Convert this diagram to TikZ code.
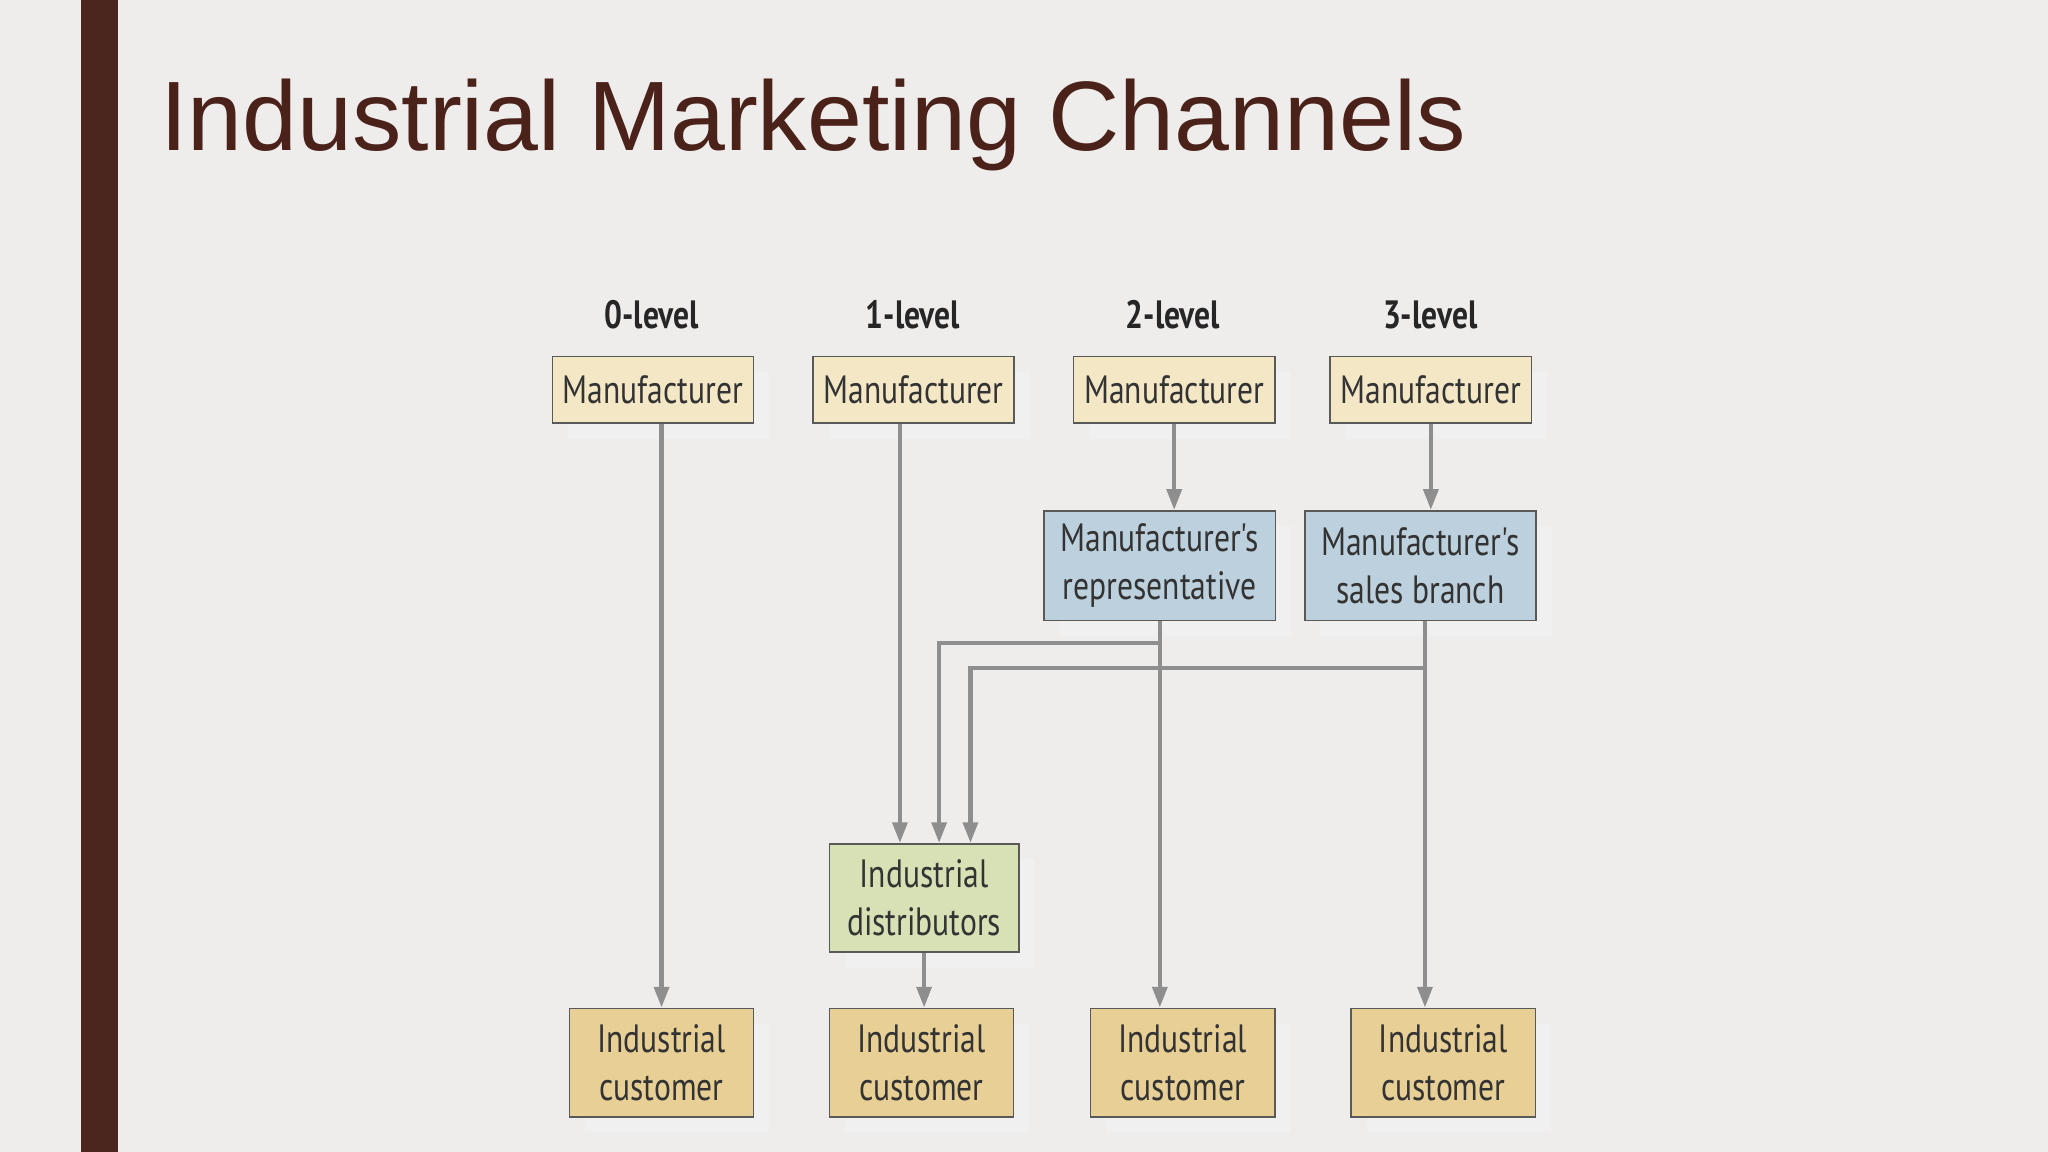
\documentclass[tikz,border=0pt]{standalone}
\usepackage{fontspec}
\setmainfont{Liberation Sans}
\newfontfamily\boxfont{PT Sans}[FakeStretch=0.8]
\usetikzlibrary{arrows.meta}
\usetikzlibrary{shadows}
\definecolor{slidebg}{HTML}{EFECEC}
\definecolor{barbrown}{HTML}{4A261E}
\definecolor{titlebrown}{HTML}{4A2219}
\definecolor{mfrfill}{HTML}{F3E7C6}
\definecolor{repfill}{HTML}{BCD0DD}
\definecolor{distfill}{HTML}{D7E1B5}
\definecolor{custfill}{HTML}{E7CF96}
\definecolor{linegray}{HTML}{8E8E8E}
\tikzset{
  box/.style={draw=gray!70!black, line width=0.35pt, align=center, text=black!80,
    font=\boxfont\fontsize{8.6}{10.4}\selectfont, inner sep=0pt,
    drop shadow={shadow xshift=1.2mm, shadow yshift=-1.2mm, fill=black!6, opacity=1}},
  mfr/.style={box, fill=mfrfill, minimum width=15.4mm, minimum height=5.1mm},
  mid/.style={box, minimum width=17.7mm, minimum height=8.4mm},
  cust/.style={box, fill=custfill, minimum width=14.1mm, minimum height=8.3mm},
  level/.style={font=\boxfont\bfseries\fontsize{8.6}{10}\selectfont, text=black!85},
  arr/.style={draw=linegray, line width=0.9pt, -{Triangle[width=3.2pt,length=4.5pt]}}
}
\begin{document}
\begin{tikzpicture}[x=0.1mm, y=-0.1mm]
  % Background
  \fill[slidebg] (0,0) rectangle (1568,882);
  \useasboundingbox (0,0) rectangle (1568,882);
  \fill[barbrown] (62,0) rectangle (90,882);
  % Title
  \node[anchor=base west, inner sep=0pt, text=titlebrown, font=\fontsize{21.5}{24}\selectfont]
    (title) at (122,115) {Industrial Marketing Channels};
  % Level headings
  \node[level] (l0) at (499,241) {0-level};
  \node[level] (l1) at (699,241) {1-level};
  \node[level] (l2) at (898,241) {2-level};
  \node[level] (l3) at (1095,241) {3-level};
  % Manufacturers
  \node[mfr] (m0) at (500,298.5) {Manufacturer};
  \node[mfr] (m1) at (699.5,298.5) {Manufacturer};
  \node[mfr] (m2) at (899,298.5) {Manufacturer};
  \node[mfr] (m3) at (1095.5,298.5) {Manufacturer};
  % Intermediaries
  \node[mid, fill=repfill] (rep) at (888,433) {Manufacturer's\\representative};
  \node[mid, fill=repfill] (branch) at (1087.5,433) {Manufacturer's\\sales branch};
  \node[box, fill=distfill, minimum width=14.5mm, minimum height=8.3mm] (dist) at (707.5,687.5) {Industrial\\distributors};
  % Customers
  \node[cust] (c0) at (506.5,813.5) {Industrial\\customer};
  \node[cust] (c1) at (705.5,813.5) {Industrial\\customer};
  \node[cust] (c2) at (905.5,813.5) {Industrial\\customer};
  \node[cust] (c3) at (1105,813.5) {Industrial\\customer};
  % Entry and exit points
  \coordinate (d1) at ([xshift=-1.85mm]dist.north);
  \coordinate (d2) at ([xshift=1.15mm]dist.north);
  \coordinate (d3) at ([xshift=3.55mm]dist.north);
  \coordinate (bx) at ([xshift=0.35mm]branch.south);
  % Channels
  \draw[arr] (m0.south -| c0.north) -- (c0.north);
  \draw[arr] (m1.south -| d1) -- (d1);
  \draw[arr] (m2.south) -- (rep.north -| m2.south);
  \draw[arr] (m3.south) -- (branch.north -| m3.south);
  \draw[arr] (rep.south) -- (c2.north -| rep.south);
  \draw[arr] (rep.south) -- ++(0,17) -| (d2);
  \draw[arr] (bx) -- (c3.north -| bx);
  \draw[arr] (bx) -- ++(0,36) -| (d3);
  \draw[arr] (dist.south) -- (c1.north -| dist.south);
\end{tikzpicture}
\end{document}
